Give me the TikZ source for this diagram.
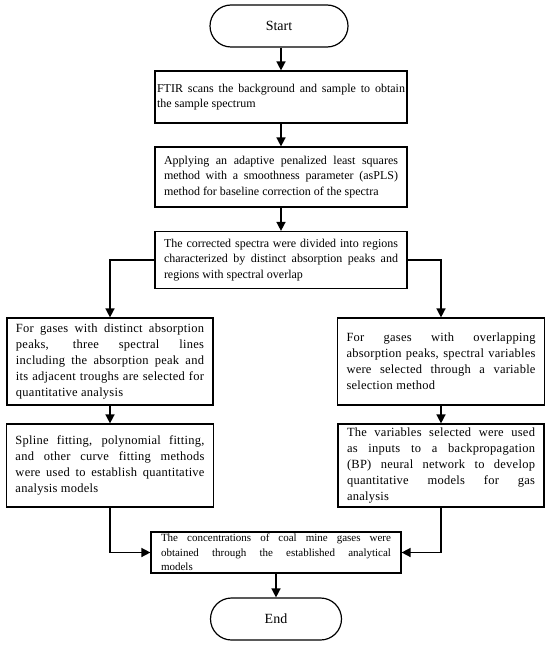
\documentclass[tikz,border=0pt]{standalone}
\usepackage{fontspec}
\setmainfont{Liberation Serif}
\newfontfamily\sidefont[LetterSpace=2]{Liberation Serif}
\usetikzlibrary{arrows.meta}
\newcommand\jl[1]{\hbox to\hsize{#1}}
\newcommand\lastl[1]{\hbox{#1}}
\newcommand\lines[2]{\vbox{\hsize=#1\relax #2}}
\begin{document}
\begin{tikzpicture}[x=1pt,y=-1pt,
  box/.style={draw, line width=1.2pt, inner ysep=0pt,
    font=\fontsize{12}{15.5}\selectfont},
  side/.style={box, inner xsep=9pt, font=\sidefont\fontsize{12.5}{16}\selectfont},
  term/.style={draw, line width=1.2pt, rounded corners=21pt, minimum width=138pt,
    minimum height=42pt, inner sep=0pt, font=\fontsize{14}{16}\selectfont},
  arr/.style={line width=1.5pt, -{Triangle[length=9pt,width=9pt]}}]
\useasboundingbox (0,0) rectangle (550,647);

\node[term] (start) at (279,26) {Start};
\node[box, inner xsep=2pt, minimum height=52pt] (b1) at (281,97)
  {\lines{248pt}{\jl{FTIR scans the background and sample to obtain}\lastl{the sample spectrum}}};
\node[box, inner xsep=9pt, minimum height=60pt] (b2) at (281,177)
  {\lines{234pt}{\jl{Applying an adaptive penalized least squares}\jl{method with a smoothness parameter (asPLS)}\lastl{method for baseline correction of the spectra}}};
\node[box, inner xsep=9pt, minimum height=57pt] (b3) at (281,260)
  {\lines{234pt}{\jl{The corrected spectra were divided into regions}\jl{characterized by distinct absorption peaks and}\lastl{regions with spectral overlap}}};
\node[side, minimum height=87pt] (b4) at (110,361.5)
  {\lines{188pt}{\jl{For gases with distinct absorption}\jl{peaks, three spectral lines}\jl{including the absorption peak and}\jl{its adjacent troughs are selected for}\lastl{quantitative analysis}}};
\node[side, minimum height=87pt] (b6) at (441,361.5)
  {\lines{189pt}{\jl{For gases with overlapping}\jl{absorption peaks, spectral variables}\jl{were selected through a variable}\lastl{selection method}}};
\node[side, minimum height=83pt] (b5) at (110,465.5)
  {\lines{189pt}{\jl{Spline fitting, polynomial fitting,}\jl{and other curve fitting methods}\jl{were used to establish quantitative}\lastl{analysis models}}};
\node[side, minimum height=83pt] (b7) at (441,465.5)
  {\lines{188pt}{\jl{The variables selected were used}\jl{as inputs to a backpropagation}\jl{(BP) neural network to develop}\jl{quantitative models for gas}\lastl{analysis}}};
\node[box, inner xsep=10pt, minimum height=41pt,
  font=\fontsize{11}{14.5}\selectfont] (b8) at (276,552.5)
  {\lines{230pt}{\jl{The concentrations of coal mine gases were}\jl{obtained through the established analytical}\lastl{models}}};
\node[term, minimum width=131pt] (end) at (276,619) {End};

\draw[arr] (start.south -| b1.north) -- (b1.north);
\draw[arr] (b1) -- (b2);
\draw[arr] (b2) -- (b3);
\draw[arr] (b3.west) -| (b4.north);
\draw[arr] (b3.east) -| (b6.north);
\draw[arr] (b4) -- (b5);
\draw[arr] (b6) -- (b7);
\draw[arr] (b5.south) |- (b8.west);
\draw[arr] (b7.south) |- (b8.east);
\draw[arr] (b8) -- (end);
\end{tikzpicture}
\end{document}
